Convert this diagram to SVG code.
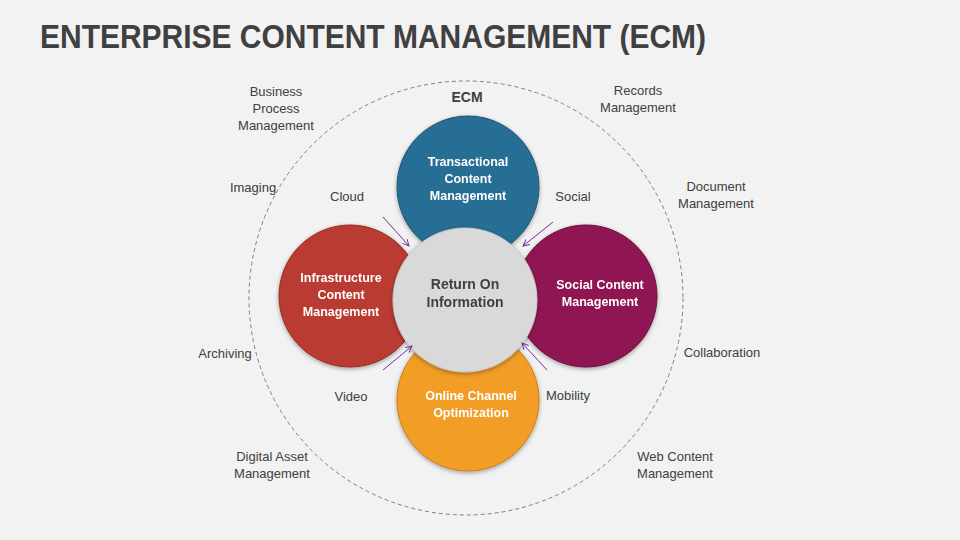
<svg xmlns="http://www.w3.org/2000/svg" width="960" height="540" viewBox="0 0 960 540">
<defs>
<style>
.lbl{font-family:"Liberation Sans",Arial,sans-serif;font-size:13px;fill:#404040;text-anchor:middle}
.in{font-family:"Liberation Sans",Arial,sans-serif;font-size:12.5px;font-weight:bold;fill:#ffffff;text-anchor:middle}
.ctr{font-family:"Liberation Sans",Arial,sans-serif;font-size:14px;font-weight:bold;fill:#404040;text-anchor:middle}
.arr{stroke:#7030A0;stroke-width:1;fill:none;marker-end:url(#ah)}
</style>
<marker id="ah" viewBox="0 0 10 10" refX="9" refY="5" markerWidth="8" markerHeight="8" orient="auto" markerUnits="userSpaceOnUse">
<path d="M1,1 L9,5 L1,9" fill="none" stroke="#7030A0" stroke-width="1.2"/>
</marker>
<filter id="sh" x="-20%" y="-20%" width="140%" height="140%">
<feDropShadow dx="0" dy="1.5" stdDeviation="2" flood-color="#000" flood-opacity="0.35"/>
</filter>
</defs>
<rect width="960" height="540" fill="#F2F2F2"/>
<text x="40" y="48" textLength="666" lengthAdjust="spacingAndGlyphs" font-family="'Liberation Sans',Arial,sans-serif" font-size="34" font-weight="bold" fill="#404040">ENTERPRISE CONTENT MANAGEMENT (ECM)</text>
<g id="ecm-boundary">
<circle cx="466" cy="298" r="217" fill="none" stroke="#7f7f7f" stroke-width="1" stroke-dasharray="4,3"/>
<text x="467" y="102" class="ctr" font-size="13">ECM</text>
</g>
<g id="transactional" filter="url(#sh)">
<circle cx="468" cy="187" r="71" fill="#266E93" stroke="#1d5571" stroke-width="1"/>
<text class="in" x="468" y="166">Transactional</text>
<text class="in" x="468" y="183">Content</text>
<text class="in" x="468" y="200">Management</text>
</g>
<g id="infrastructure" filter="url(#sh)">
<circle cx="350" cy="296" r="71" fill="#BA3A32" stroke="#962d27" stroke-width="1"/>
<text class="in" x="341" y="282">Infrastructure</text>
<text class="in" x="341" y="299">Content</text>
<text class="in" x="341" y="316">Management</text>
</g>
<g id="social" filter="url(#sh)">
<circle cx="586" cy="296" r="71" fill="#901453" stroke="#700f40" stroke-width="1"/>
<text class="in" x="600" y="289">Social Content</text>
<text class="in" x="600" y="306">Management</text>
</g>
<g id="online" filter="url(#sh)">
<circle cx="468" cy="400" r="71" fill="#F29D26" stroke="#c97e18" stroke-width="1"/>
<text class="in" x="471" y="400">Online Channel</text>
<text class="in" x="471" y="417">Optimization</text>
</g>
<g id="roi" filter="url(#sh)">
<circle cx="465" cy="300" r="72" fill="#D9D9D9" stroke="#c8c8c8" stroke-width="1"/>
<text class="ctr" x="465" y="289">Return On</text>
<text class="ctr" x="465" y="307">Information</text>
</g>
<g id="connectors">
<line class="arr" x1="383" y1="217" x2="409" y2="246"/>
<line class="arr" x1="553" y1="222" x2="523" y2="246"/>
<line class="arr" x1="383" y1="370" x2="412" y2="346"/>
<line class="arr" x1="547" y1="370" x2="522" y2="343"/>
</g>
<g id="labels">
<g id="bpm"><text class="lbl" x="276" y="96">Business</text><text class="lbl" x="276" y="113">Process</text><text class="lbl" x="276" y="130">Management</text></g>
<g id="records"><text class="lbl" x="638" y="95">Records</text><text class="lbl" x="638" y="112">Management</text></g>
<g id="imaging"><text class="lbl" x="253" y="192">Imaging</text></g>
<g id="cloud"><text class="lbl" x="347" y="201">Cloud</text></g>
<g id="social-lbl"><text class="lbl" x="573" y="201">Social</text></g>
<g id="document"><text class="lbl" x="716" y="191">Document</text><text class="lbl" x="716" y="208">Management</text></g>
<g id="archiving"><text class="lbl" x="225" y="358">Archiving</text></g>
<g id="collaboration"><text class="lbl" x="722" y="357">Collaboration</text></g>
<g id="video"><text class="lbl" x="351" y="401">Video</text></g>
<g id="mobility"><text class="lbl" x="568" y="400">Mobility</text></g>
<g id="dam"><text class="lbl" x="272" y="461">Digital Asset</text><text class="lbl" x="272" y="478">Management</text></g>
<g id="wcm"><text class="lbl" x="675" y="461">Web Content</text><text class="lbl" x="675" y="478">Management</text></g>
</g>
</svg>
